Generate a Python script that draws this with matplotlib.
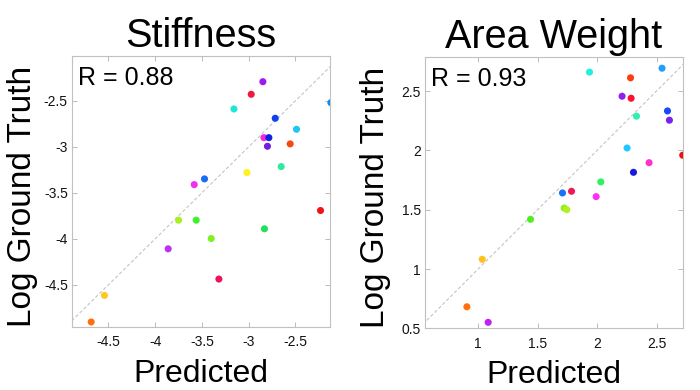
import matplotlib
matplotlib.use("Agg")
import matplotlib.pyplot as plt

plt.rcParams['font.family'] = ['Liberation Sans', 'DejaVu Sans']

# ---- Stiffness panel data ----
stiff_pred = [-2.847, -2.972, -2.119, -3.157, -2.715, -2.487, -2.836, -2.783, -2.798, -2.555,
              -2.651, -3.018, -3.472, -3.582, -2.230, -3.750, -3.561, -2.830, -3.400, -3.861,
              -3.318, -4.543, -4.685]
stiff_true = [-2.290, -2.427, -2.518, -2.587, -2.688, -2.808, -2.899, -2.899, -2.993, -2.967,
              -3.214, -3.279, -3.348, -3.410, -3.692, -3.797, -3.797, -3.891, -3.997, -4.109,
              -4.438, -4.616, -4.905]
stiff_colors = ["#9a1cf0", "#f01840", "#1288e8", "#20e8d0", "#1040f0", "#22c4f4", "#f424e0", "#1020e0",
                "#7020e0", "#f44a12", "#30e8a0", "#fff020", "#1a6cf0", "#f030f0", "#f01414", "#a8f020",
                "#40f030", "#20e060", "#80f020", "#c030f0", "#f01060", "#ffc820", "#ff7010"]
stiff_r = "R = 0.88"
stiff_xticks = [-4.5, -4, -3.5, -3, -2.5]
stiff_yticks = [-4.5, -4, -3.5, -3, -2.5]
stiff_xlim = (-4.89, -2.125)
stiff_ylim = (-4.96, -2.01)

# ---- Area Weight panel data ----
area_pred = [1.936, 2.546, 2.281, 2.210, 2.286, 2.331, 2.592, 2.608, 2.252, 2.720, 2.437,
             2.306, 2.031, 1.709, 1.785, 1.992, 1.723, 1.745, 1.440, 1.034, 0.905, 1.084]
area_true = [2.659, 2.692, 2.611, 2.456, 2.439, 2.288, 2.332, 2.254, 2.020, 1.959, 1.896,
             1.815, 1.734, 1.641, 1.655, 1.610, 1.514, 1.500, 1.419, 1.082, 0.682, 0.551]
area_colors = ["#20f0e0", "#20a0f8", "#ff3c10", "#9020f0", "#ff1030", "#30f0b0", "#1848ff", "#7a20f0",
               "#20c8ff", "#f01010", "#ff30d0", "#1818e0", "#30f060", "#1870ff", "#f01858", "#ff30f0",
               "#90f020", "#b0f020", "#50f020", "#ffc020", "#ff7010", "#c020f0"]
area_r = "R = 0.93"
area_xticks = [1, 1.5, 2, 2.5]
area_yticks = [0.5, 1, 1.5, 2, 2.5]
area_xlim = (0.552, 2.724)
area_ylim = (0.5, 2.787)

fig = plt.figure(figsize=(7.0, 3.9), dpi=100)
ax1 = fig.add_axes([0.1029, 0.1615, 0.369, 0.695])
ax2 = fig.add_axes([0.607, 0.158, 0.369, 0.696])

def panel(ax, x, y, colors, title, rtext, xt, yt, xlim, ylim):
    lo = min(xlim[0], ylim[0]) - 1
    hi = max(xlim[1], ylim[1]) + 1
    ax.plot([lo, hi], [lo, hi], ls=(0, (3, 2)), color="#c4c4c4", lw=0.8, zorder=1)
    ax.scatter(x, y, s=26, c=colors, edgecolors='none', zorder=3)
    ax.set_xlim(*xlim)
    ax.set_ylim(*ylim)
    ax.set_xticks(xt)
    ax.set_yticks(yt)
    ax.set_xticklabels([f"{v:g}" for v in xt])
    ax.set_yticklabels([f"{v:g}" for v in yt])
    for s in ax.spines.values():
        s.set_color("#c0c0c0")
        s.set_linewidth(0.8)
    ax.tick_params(direction='in', length=3.5, width=0.6, color="#b0b0b0",
                   top=True, right=True, labelsize=10, labelcolor="#111111")
    ax.tick_params(axis='x', pad=6)
    ax.tick_params(axis='y', pad=3)
    ax.set_title(title, fontsize=28.5, pad=6.5)
    ax.set_xlabel("Predicted", fontsize=23)
    ax.xaxis.set_label_coords(0.5, -0.118)
    ax.set_ylabel("Log Ground Truth", fontsize=24)
    ax.yaxis.set_label_coords(-0.132, 0.483)
    ax.text(0.022, 0.963, rtext, transform=ax.transAxes, fontsize=18, va='top', ha='left')

panel(ax1, stiff_pred, stiff_true, stiff_colors, "Stiffness", stiff_r,
      stiff_xticks, stiff_yticks, stiff_xlim, stiff_ylim)
panel(ax2, area_pred, area_true, area_colors, "Area Weight", area_r,
      area_xticks, area_yticks, area_xlim, area_ylim)

fig.savefig("out.png", dpi=100)
